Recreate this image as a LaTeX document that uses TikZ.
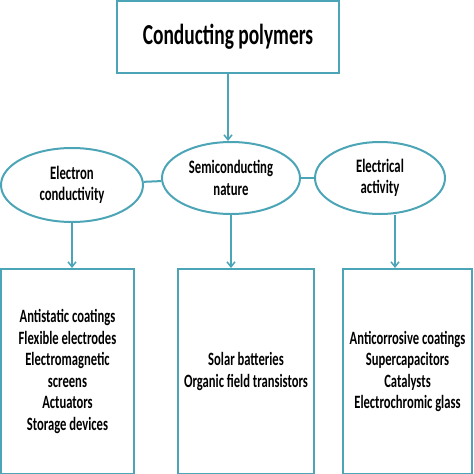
\documentclass[tikz,border=0pt]{standalone}
\usepackage{fontspec}
\setmainfont{Carlito}[FakeStretch=0.67]
\usetikzlibrary{arrows.meta, positioning, shapes.geometric}
\definecolor{turquesa}{RGB}{75, 165, 182}
\tikzset{
  caixa/.style={
    draw=turquesa, line width=2pt, align=center,
    font=\bfseries\fontsize{18.8}{21.5}\selectfont, inner sep=2pt
  },
  caixaTopo/.style={caixa, minimum width=222pt, minimum height=72pt,
    font=\bfseries\fontsize{29}{30}\selectfont},
  caixaApp/.style={caixa, anchor=north, minimum height=205pt},
  elipse/.style={
    ellipse, draw=turquesa, line width=2pt, align=center, inner sep=0pt,
    font=\bfseries\fontsize{19}{21.5}\selectfont
  },
  seta/.style={-{Straight Barb[length=5pt, width=8pt]}, line width=1.5pt, turquesa},
  ligacao/.style={line width=2pt, turquesa},
}

\begin{document}
\begin{tikzpicture}[x=1pt, y=-1pt]
\useasboundingbox (0,0) rectangle (474,474);

% Topo
\node[caixaTopo] (polimeros) at (228,37) {Conducting polymers};

% Propriedades
\node[elipse, minimum width=142pt, minimum height=74pt] (eletron) at (72,185)
  {Electron\\conductivity};
\node[elipse, minimum width=138pt, minimum height=72pt] (semi) at (231,178)
  {Semiconducting\\nature};
\node[elipse, minimum width=130pt, minimum height=72pt] (eletrica) at (380,178)
  {Electrical\\activity};

% Aplicacoes
\node[caixaApp, minimum width=133pt] (aplicA) at (67.5,268)
  {Antistatic coatings\\Flexible electrodes\\Electromagnetic\\screens\\Actuators\\Storage devices};
\node[caixaApp, minimum width=136pt] (aplicB) at (246,268)
  {Solar batteries\\Organic field transistors};
\node[caixaApp, minimum width=129pt] (aplicC) at (407.5,268)
  {Anticorrosive coatings\\Supercapacitors\\Catalysts\\Electrochromic glass};

% Ligacoes
\draw[ligacao] (eletron) -- (semi);
\draw[ligacao] (semi) -- (eletrica);

% Setas
\draw[seta] (polimeros.south) -- (polimeros.south |- semi.north);
\draw[seta] (eletron.south) -- (eletron.south |- aplicA.north);
\draw[seta] (semi.south) -- (semi.south |- aplicB.north);
\draw[seta] ([xshift=15pt]eletrica.south) -- ([xshift=15pt]eletrica.south |- aplicC.north);

\end{tikzpicture}
\end{document}
